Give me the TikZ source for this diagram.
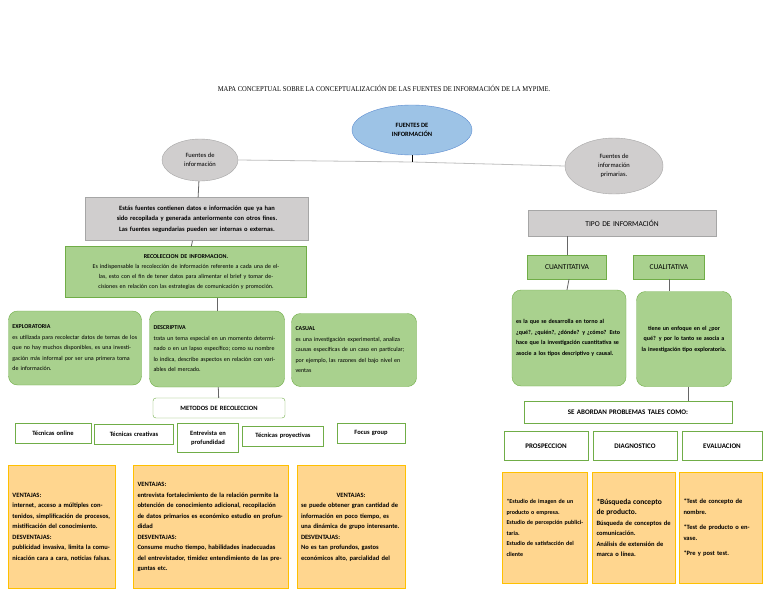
\documentclass[tikz,border=0pt]{standalone}
\usepackage{fontspec}
\setmainfont{Carlito}
\newfontfamily\titlefont{Liberation Serif}
\usetikzlibrary{shapes.geometric}
\definecolor{azul}{HTML}{9DC3E6}
\definecolor{azulb}{HTML}{5B8BD0}
\definecolor{gris}{HTML}{D0CECE}
\definecolor{grisb}{HTML}{A6A6A6}
\definecolor{verde}{HTML}{A9D18E}
\definecolor{verdeb}{HTML}{70AD47}
\definecolor{naranja}{HTML}{FFD68F}
\definecolor{naranjab}{HTML}{FFC000}
\tikzset{
  sz/.style 2 args={minimum width=#1pt,minimum height=#2pt,text width=#1pt-8pt,inner sep=3pt},
  elip/.style={ellipse,draw=grisb,fill=gris,align=center,font=\fontsize{6.5}{9}\selectfont,inner sep=0pt},
  caja/.style={draw=grisb,fill=gris,align=center,font=\bfseries\fontsize{6.5}{10.5}\selectfont},
  verdec/.style={draw=verdeb,fill=verde,align=center,font=\fontsize{6}{10}\selectfont},
  redon/.style={draw=verdeb,fill=verde,rounded corners=9pt,align=left,font=\fontsize{6}{10.5}\selectfont},
  blanca/.style={draw=verdeb,fill=white,align=center,font=\bfseries\fontsize{6.5}{9}\selectfont},
  nar/.style={draw=naranjab,fill=naranja,align=left,font=\bfseries\fontsize{6.5}{10.5}\selectfont},
  linea/.style={draw=black!60,line width=0.8pt}
}
\begin{document}
\begin{tikzpicture}[x=1pt,y=-1pt]
\useasboundingbox[fill=white] (0,0) rectangle (768,594);
\node (titulo) at (384,88) {\titlefont\fontsize{7.3}{9}\selectfont\scalebox{0.9}[1]{MAPA CONCEPTUAL SOBRE LA CONCEPTUALIZACIÓN DE LAS FUENTES DE INFORMACIÓN DE LA MYPIME.}};

% elipses
\node[elip,draw=azulb,fill=azul,minimum width=120pt,minimum height=50pt,font=\bfseries\fontsize{6.5}{9}\selectfont] (fuentes) at (412,130) {FUENTES DE\\INFORMACIÓN};
\node[elip,minimum width=76pt,minimum height=42pt] (secund) at (200,160) {Fuentes de\\información};
\node[elip,minimum width=98pt,minimum height=56pt] (prim) at (614,166) {Fuentes de\\información\\primarias.};
\coordinate (cruce) at (412,162);
\draw[line width=0.8pt,black!25] (secund.east) -- (cruce) -- (prim.west);
\draw[line width=0.8pt] (fuentes.south) -- (cruce);

% lado izquierdo
\node[caja,sz={223}{43}] (estas) at (197,219) {Estás fuentes contienen datos e información que ya han sido recopilada y generada anteriormente con otros fines. Las fuentes segundarias pueden ser internas o externas.};
\node[verdec,sz={241}{51}] (recol) at (186,272) {\textbf{RECOLECCION DE INFORMACION.}\\Es indispensable la recolección de información referente a cada una de ellas, esto con el fin de tener datos para alimentar el brief y tomar decisiones en relación con las estrategias de comunicación y promoción.};
\node[redon,sz={133}{74}] (explo) at (75,348) {\textbf{EXPLORATORIA}\\es utilizada para recolectar datos de temas de los que no hay muchos disponibles, es una investigación más informal por ser una primera toma de información.};
\node[redon,sz={135}{76}] (descr) at (217,349) {\textbf{DESCRIPTIVA}\\ trata un tema especial en un momento determinado o en un lapso específico; como su nombre lo indica, describe aspectos en relación con variables del mercado.};
\node[redon,sz={125}{73}] (casual) at (354,350) {\textbf{CASUAL}\\es una investigación experimental, analiza causas específicas de un caso en particular; por ejemplo, las razones del bajo nivel en ventas};
\node[blanca,rounded corners=3pt,sz={132}{20}] (metodos) at (219,408) {METODOS DE RECOLECCION};
\node[blanca,sz={76}{20}] (online) at (53,433) {Técnicas online};
\node[blanca,sz={79}{20}] (creat) at (134,434) {Técnicas creativas};
\node[blanca,sz={61}{29}] (entrev) at (208,438) {Entrevista en profundidad};
\node[blanca,sz={81}{20}] (proy) at (283,436) {Técnicas proyectivas};
\node[blanca,sz={68}{20}] (focus) at (371,433) {Focus group};
\draw[linea] (secund) -- (estas);
\draw[linea] (estas) -- (recol);
\draw[linea] (recol.south -| descr.north) -- (descr);
\draw[linea] (descr) -- (metodos);

\node[nar,sz={107}{123}] (vent1) at (62,527) {VENTAJAS:\\internet, acceso a múltiples contenidos, simplificación de procesos, mistificación del conocimiento.\\DESVENTAJAS:\\publicidad invasiva, limita la comunicación cara a cara, noticias falsas.};
\node[nar,sz={155}{123}] (vent2) at (211,527) {VENTAJAS:\\entrevista fortalecimiento de la relación permite la obtención de conocimiento adicional, recopilación de datos primarios es económico estudio en profundidad\\DESVENTAJAS:\\Consume mucho tiempo, habilidades inadecuadas del entrevistador, timidez entendimiento de las preguntas etc.};
\node[nar,sz={108}{123}] (vent3) at (351,527) {\centering VENTAJAS:\\\raggedright se puede obtener gran cantidad de información en poco tiempo, es una dinámica de grupo interesante.\\DESVENTAJAS:\\No es tan profundos, gastos económicos alto, parcialidad del};

% lado derecho
\node[caja,font=\fontsize{7.5}{9}\selectfont,sz={188}{26}] (tipo) at (622,223) {TIPO DE INFORMACIÓN};
\node[verdec,font=\fontsize{7.5}{9}\selectfont,sz={79}{24}] (cuanti) at (567,267) {CUANTITATIVA};
\node[verdec,font=\fontsize{7.5}{9}\selectfont,sz={71}{24}] (cuali) at (669,267) {CUALITATIVA};
\node[redon,font=\bfseries\fontsize{6}{10.5}\selectfont,sz={114}{96}] (cuantid) at (569,338) {es la que se desarrolla en torno al ¿qué?, ¿quién?, ¿dónde? y ¿cómo? Esto hace que la investigación cuantitativa se asocie a los tipos descriptivo y causal.};
\node[redon,align=center,font=\bfseries\fontsize{6}{10.5}\selectfont,sz={95}{95}] (cualid) at (684,339) {tiene un enfoque en el ¿por qué? y por lo tanto se asocia a la investigación tipo exploratoria.};
\node[blanca,font=\bfseries\fontsize{7}{9}\selectfont,sz={208}{22}] (aborda) at (628,412) {SE ABORDAN PROBLEMAS TALES COMO:};
\node[blanca,font=\bfseries\fontsize{7}{9}\selectfont,sz={84}{29}] (prosp) at (546,446) {PROSPECCION};
\node[blanca,font=\bfseries\fontsize{7}{9}\selectfont,sz={84}{29}] (diag) at (635,446) {DIAGNOSTICO};
\node[blanca,font=\bfseries\fontsize{7}{9}\selectfont,sz={80}{29}] (eval) at (722,446) {EVALUACION};
\draw[linea] (tipo.south -| cuanti.north) -- (cuanti);
\draw[linea] (cuanti.south -| cuantid.north) -- (cuantid.north -| cuanti.south);
\draw[linea] (cuali) -- (cuali |- cualid.north);
\draw[linea] (cualid.south -| aborda.north) ++(60,0) coordinate (c1) -- (c1 |- aborda.north);

\node[nar,font=\bfseries\fontsize{6}{10.5}\selectfont,sz={85}{111}] (prospd) at (545,528) {*Estudio de imagen de un producto o empresa.\\*Estudio de percepción publicitaria.\\*Estudio de satisfacción del cliente};
\node[nar,font=\bfseries\fontsize{6.5}{10.5}\selectfont,sz={83}{111}] (diagd) at (634,528) {{\fontsize{7.5}{11}\selectfont *Búsqueda concepto de producto.}\\*Búsqueda de conceptos de comunicación.\\*Análisis de extensión de marca o línea.};
\node[nar,font=\bfseries\fontsize{6.5}{10.5}\selectfont,sz={83}{111}] (evald) at (721,528) {*Test de concepto de nombre.\\[5pt]*Test de producto o envase.\\[5pt]*Pre y post test.};
\end{tikzpicture}
\end{document}
